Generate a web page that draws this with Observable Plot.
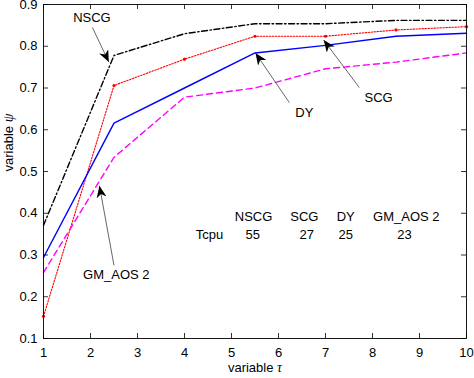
<!DOCTYPE html>
<html><head><meta charset="utf-8">
<script src="https://cdn.jsdelivr.net/npm/d3@7"></script>
<script src="https://cdn.jsdelivr.net/npm/@observablehq/plot@0.6"></script>
<style>body{margin:0;background:#fff} svg{font-family:"Liberation Sans",Arial,sans-serif}</style>
</head><body><div id="chart"></div>
<script>
const tau = [1, 2.5, 4, 5.5, 7, 8.5, 10];
const nscg = [0.371, 0.778, 0.830, 0.854, 0.854, 0.862, 0.862];
const scg = [0.153, 0.706, 0.769, 0.824, 0.824, 0.839, 0.847];
const dyv = [0.294, 0.616, 0.700, 0.784, 0.802, 0.824, 0.831];
const gmaos = [0.258, 0.534, 0.678, 0.700, 0.746, 0.762, 0.784];

const xTicks = [1, 2, 3, 4, 5, 6, 7, 8, 9, 10];
const yTicks = [0.1, 0.2, 0.3, 0.4, 0.5, 0.6, 0.7, 0.8, 0.9];

// annotations (data coordinates)
const annLabels = ["NSCG", "DY", "SCG", "GM_AOS 2"];
const annTextX = [2.03, 6.55, 8.13, 2.55];
const annTextY = [0.868, 0.641, 0.677, 0.253];
const annFromX = [2.04, 6.23, 7.72, 2.50];
const annFromY = [0.845, 0.665, 0.701, 0.275];
const annTipX = [2.39, 5.51, 6.96, 2.19];
const annTipY = [0.762, 0.784, 0.815, 0.466];

// table of CPU times
const tabText = ["NSCG", "SCG", "DY", "GM_AOS 2", "Tcpu", "55", "27", "25", "23"];
const tabX = [5.47, 6.55, 7.43, 8.72, 4.53, 5.45, 6.60, 7.43, 8.68];
const tabY = [0.392, 0.392, 0.392, 0.392, 0.349, 0.349, 0.349, 0.349, 0.349];

const series = [
  {name: "NSCG", vals: nscg, stroke: "#000000", dash: "6,2.5,1.5,2.5", width: 1.4},
  {name: "SCG", vals: scg, stroke: "#ff0000", dash: "1.5,1.5", width: 1.1},
  {name: "DY", vals: dyv, stroke: "#0000ff", dash: null, width: 1.4},
  {name: "GM_AOS 2", vals: gmaos, stroke: "#ff00ff", dash: "6,4", width: 1.4}
];

const W = 474, H = 378, mL = 43, mR = 8, mT = 4, mB = 40;
const ph = H - mT - mB, pw = W - mL - mR;
const tl = 5;
const FS = 13;

const marks = [];
for (const s of series) {
  marks.push(Plot.line(tau.map((t, i) => ({t, v: s.vals[i]})), {
    x: "t", y: "v", stroke: s.stroke, strokeWidth: s.width,
    strokeDasharray: s.dash, strokeLinejoin: "miter"
  }));
}
marks.push(Plot.dot(tau.map((t, i) => ({t, v: scg[i]})), {x: "t", y: "v", r: 1.6, fill: "#ff0000"}));

const ann = annLabels.map((l, i) => ({l, tx: annTextX[i], ty: annTextY[i], fx: annFromX[i], fy: annFromY[i], kx: annTipX[i], ky: annTipY[i]}));
marks.push(Plot.link(ann, {x1: "fx", y1: "fy", x2: "kx", y2: "ky", stroke: "#555", strokeWidth: 0.9}));
marks.push(Plot.text(ann, {x: "tx", y: "ty", text: "l", fontSize: FS, fill: "#000"}));
marks.push(Plot.text(tabText.map((t, i) => ({t, x: tabX[i], y: tabY[i]})), {x: "x", y: "y", text: "t", fontSize: FS, fill: "#000"}));

// inward ticks on all four sides
marks.push(Plot.tickX(xTicks, {x: d => d, insetTop: ph - tl, stroke: "#000", strokeWidth: 0.8}));
marks.push(Plot.tickX(xTicks, {x: d => d, insetBottom: ph - tl, stroke: "#000", strokeWidth: 0.8}));
marks.push(Plot.tickY(yTicks, {y: d => d, insetRight: pw - tl, stroke: "#000", strokeWidth: 0.8}));
marks.push(Plot.tickY(yTicks, {y: d => d, insetLeft: pw - tl, stroke: "#000", strokeWidth: 0.8}));
marks.push(Plot.frame({stroke: "#000", strokeWidth: 0.9}));

marks.push(Plot.axisX(xTicks, {tickSize: 0, tickPadding: 9, fontSize: FS, label: null, color: "#000"}));
marks.push(Plot.axisY(yTicks, {tickSize: 0, tickPadding: 6, fontSize: FS, label: null, tickFormat: d3.format(".1f"), color: "#000"}));
marks.push(Plot.text(["variable τ"], {frameAnchor: "bottom", dy: 33, fontSize: FS, fill: "#000"}));
marks.push(Plot.text(["variable ψ"], {frameAnchor: "left", dx: -35, rotate: -90, fontSize: FS, fill: "#000"}));

const chart = Plot.plot({
  width: W, height: H,
  marginLeft: mL, marginRight: mR, marginTop: mT, marginBottom: mB,
  style: {fontFamily: '"Liberation Sans", Arial, sans-serif', fontSize: FS + "px", background: "#fff", color: "#000"},
  x: {domain: [1, 10]},
  y: {domain: [0.1, 0.9]},
  marks
});
document.getElementById("chart").appendChild(chart);

const svg = d3.select(chart);
const defs = svg.insert("defs", ":first-child");
defs.append("marker").attr("id", "ahead").attr("viewBox", "0 0 12 10")
  .attr("refX", 12).attr("refY", 5).attr("markerWidth", 12).attr("markerHeight", 10)
  .attr("markerUnits", "userSpaceOnUse").attr("orient", "auto")
  .append("path").attr("d", "M0,0 L12,5 L0,10 L3.5,5 Z").attr("fill", "#000");
svg.selectAll('g[aria-label="link"] path').attr("marker-end", "url(#ahead)");

svg.selectAll("text").each(function() {
  const t = d3.select(this);
  const s = t.text();
  const m = s.match(/^variable ([τψ])$/);
  if (m) {
    t.text("variable ");
    t.append("tspan").attr("font-style", "italic").attr("font-family", '"Liberation Serif", serif').attr("font-size", 14).text(m[1]);
  }
});
</script></body></html>
